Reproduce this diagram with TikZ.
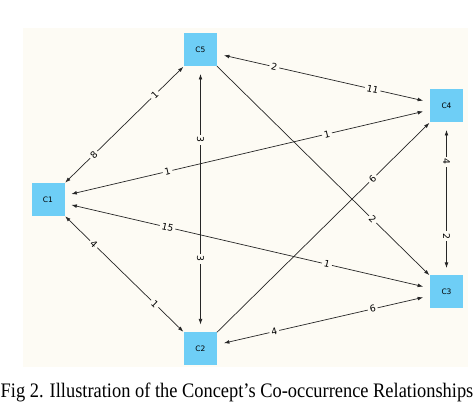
\documentclass[tikz,border=0pt]{standalone}
\usepackage{fontspec}
\setmainfont{Liberation Serif}
\newfontfamily\plotfont{DejaVu Sans}
\usetikzlibrary{arrows.meta}
\definecolor{panel}{RGB}{253,251,244}
\definecolor{conceptblue}{RGB}{110,206,246}
\tikzset{
  concept/.style={
    rectangle,
    minimum width=33pt,
    minimum height=33pt,
    inner sep=0pt,
    fill=conceptblue,
    font=\plotfont\fontsize{7.5}{8}\selectfont
  },
  link/.style={{Latex[length=5.5pt,width=3.8pt]}-{Latex[length=5.5pt,width=3.8pt]},
    line width=0.7pt, black!85, shorten <=24pt, shorten >=24pt},
  onelink/.style={-{Latex[length=5.5pt,width=3.8pt]},
    line width=0.7pt, black!85, shorten <=23pt, shorten >=24pt},
  weight/.style={
    fill=panel,
    inner sep=2pt,
    sloped,
    text=black,
    font=\plotfont\fontsize{9.3}{10}\selectfont
  }
}

\begin{document}
\begin{tikzpicture}[x=1pt,y=-1pt]
      \useasboundingbox (0,0) rectangle (474,403);
      \fill[panel] (23,28) rectangle (468,367);
      \node (c1) [concept] at (48,199.5) {C1};
      \node (c2) [concept] at (200.5,348.5) {C2};
      \node (c3) [concept] at (446.5,292) {C3};
      \node (c4) [concept] at (446.5,106) {C4};
      \node (c5) [concept] at (200.5,50) {C5};
      \draw[link] (c1.center) -- node[weight,pos=0.3] {8} node[weight,pos=0.7] {1} (c5.center);
      \draw[link] (c5.center) -- node[weight,pos=0.3] {2} node[weight,pos=0.7] {11} (c4.center);
      \draw[link] (c1.center) -- node[weight,pos=0.3] {1} node[weight,pos=0.7] {1} (c4.center);
      \draw[link] (c5.center) -- node[weight,pos=0.3] {3} node[weight,pos=0.7] {3} (c2.center);
      \draw[link] (c1.center) -- node[weight,pos=0.3] {15} node[weight,pos=0.7] {1} (c3.center);
      \draw[link] (c1.center) -- node[weight,pos=0.3] {4} node[weight,pos=0.7] {1} (c2.center);
      \draw[link] (c4.center) -- node[weight,pos=0.3] {4} node[weight,pos=0.7] {2} (c3.center);
      \draw[link] (c2.center) -- node[weight,pos=0.3] {4} node[weight,pos=0.7] {6} (c3.center);
      \draw[onelink] (c5.center) -- node[weight,pos=0.7] {2} (c3.center);
      \draw[onelink] (c2.center) -- node[weight,pos=0.7] {6} (c4.center);
      \node (caption) [anchor=base, inner sep=0pt, font=\fontsize{18.4}{20}\selectfont] at (237,397)
        {\scalebox{1}[1.12]{Fig 2. Illustration of the Concept’s Co-occurrence Relationships}};
\end{tikzpicture}
\end{document}
